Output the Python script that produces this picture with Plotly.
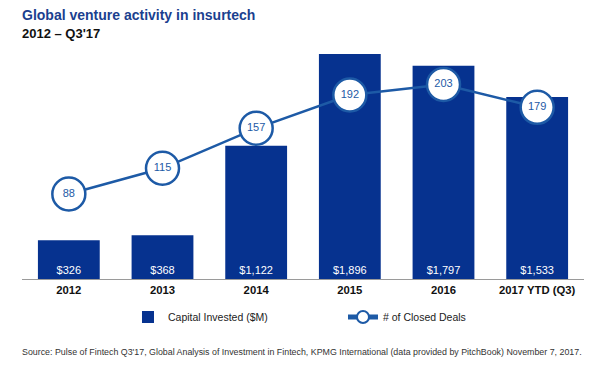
import plotly.graph_objects as go

years = ["2012", "2013", "2014", "2015", "2016", "2017 YTD (Q3)"]
capital = [326, 368, 1122, 1896, 1797, 1533]
capital_labels = ["$326", "$368", "$1,122", "$1,896", "$1,797", "$1,533"]
deals = [88, 115, 157, 192, 203, 179]

BAR = "#06328f"
LINE = "#1d5aa6"
FONT = "Liberation Sans, Arial, sans-serif"

fig = go.Figure()
fig.add_trace(go.Bar(
    x=years, y=capital, name="Capital Invested ($M)",
    marker=dict(color=BAR, line=dict(width=0)),
    text=capital_labels, textposition="inside", insidetextanchor="start",
    textfont=dict(color="white", size=11, family=FONT),
    width=0.66, yaxis="y",
))
fig.add_trace(go.Scatter(
    x=years, y=deals, name="# of Closed Deals", yaxis="y2",
    mode="lines+markers+text",
    line=dict(color=LINE, width=2.5),
    marker=dict(size=33, color="white", line=dict(color=LINE, width=2.5)),
    text=[str(d) for d in deals], textposition="middle center",
    textfont=dict(color=LINE, size=11, family=FONT),
))

fig.update_layout(
    width=600, height=368,
    margin=dict(l=14, r=24, t=32, b=97),
    paper_bgcolor="white", plot_bgcolor="white",
    font=dict(family=FONT, color="#222"),
    showlegend=True,
    legend=dict(orientation="h", x=0.1886, y=-0.159, xanchor="left", yanchor="middle",
                entrywidth=170, entrywidthmode="pixels", itemsizing="constant",
                font=dict(size=10.5, color="#222", family=FONT), bgcolor="rgba(0,0,0,0)"),
    xaxis=dict(range=[-0.5, 5.5], showline=True, linecolor="#9a9a9a", linewidth=1, ticks="",
               tickfont=dict(size=11.3, color="#111", family="Liberation Sans, Arial", weight="bold"),
               showgrid=False, fixedrange=True),
    yaxis=dict(range=[0, 2014], visible=False, showgrid=False),
    yaxis2=dict(range=[-1.25, 249.7], overlaying="y", visible=False, showgrid=False),
    bargap=0.34,
)

fig.add_annotation(xref="paper", yref="paper", x=-0.003, y=1.105, xanchor="left", yanchor="middle",
                   text="<b>Global venture activity in insurtech</b>", showarrow=False,
                   font=dict(size=14, color="#1b3f8f", family=FONT))
fig.add_annotation(xref="paper", yref="paper", x=-0.003, y=1.029, xanchor="left", yanchor="middle",
                   text="<b>2012 – Q3'17</b>", showarrow=False,
                   font=dict(size=13, color="#111", family=FONT))
fig.add_annotation(xref="paper", yref="paper", x=-0.003, y=-0.305, xanchor="left", yanchor="middle",
                   text="Source: Pulse of Fintech Q3'17, Global Analysis of Investment in Fintech, KPMG International (data provided by PitchBook) November 7, 2017.",
                   showarrow=False, font=dict(size=8.85, color="#333", family=FONT))

fig.write_html("out.html")
